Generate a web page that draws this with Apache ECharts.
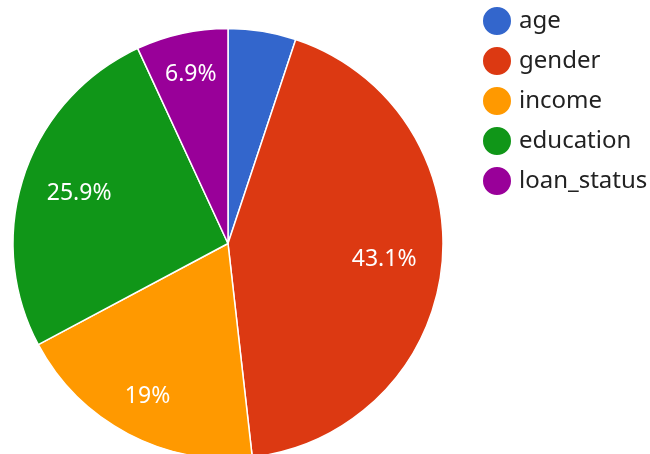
<!DOCTYPE html>
<html>
<head>
<meta charset="utf-8">
<script src="https://cdn.jsdelivr.net/npm/echarts@6/dist/echarts.min.js"></script>
<style>html,body{margin:0;padding:0;background:#fff}#chart{width:650px;height:454px}</style>
</head>
<body>
<div id="chart"></div>
<script>
const categories = ['age', 'gender', 'income', 'education', 'loan_status'];
const values = [5.1, 43.1, 19, 25.9, 6.9];
const colors = ['#3366cc', '#dc3912', '#ff9900', '#109618', '#990099'];
// label placement groups (Google-style: narrow slices get labels further out)
const innerRingLabels = ['gender', 'education'];
const outerRingLabels = ['income', 'loan_status'];

const data = categories.map((c, i) => ({ name: c, value: values[i], itemStyle: { color: colors[i] } }));
function labelData(shown) {
  return categories.map((c, i) => ({
    name: c, value: values[i],
    itemStyle: { color: 'rgba(0,0,0,0)' },
    label: { show: shown.indexOf(c) >= 0 }
  }));
}
const CENTER = [228, 243.5];
const R = 215;
const labelSeries = (inner, shown) => ({
  type: 'pie', center: CENTER, radius: [inner, R],
  startAngle: 90, clockwise: true, silent: true,
  label: { position: 'inside', color: '#fff', fontFamily: 'Noto Sans', fontSize: 23,
    formatter: p => p.value + '%' },
  labelLine: { show: false },
  emphasis: { disabled: true },
  data: labelData(shown)
});

const chart = echarts.init(document.getElementById('chart'), null, { renderer: 'canvas' });
chart.setOption({
  animation: false,
  legend: {
    orient: 'vertical',
    left: 476, top: 0,
    icon: 'circle', itemWidth: 30, itemHeight: 30, itemGap: 8,
    textStyle: { fontFamily: 'Noto Sans', fontSize: 24, lineHeight: 24, color: '#222', padding: [0, 0, 0, 2] },
    data: categories
  },
  series: [
    {
      type: 'pie', center: CENTER, radius: R,
      startAngle: 90, clockwise: true,
      itemStyle: { borderColor: '#fff', borderWidth: 1.5 },
      label: { show: false }, labelLine: { show: false },
      emphasis: { disabled: true },
      data: data
    },
    labelSeries(93, innerRingLabels),
    labelSeries(125, outerRingLabels)
  ]
});
</script>
</body>
</html>
